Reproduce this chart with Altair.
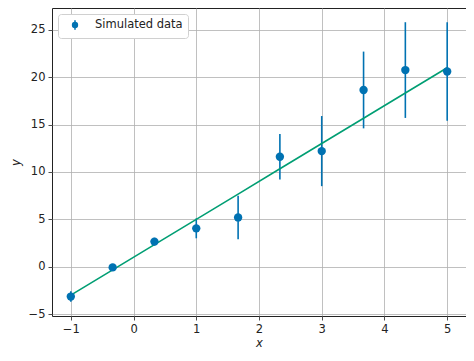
import altair as alt
import pandas as pd

# Simulated data points
x_vals = [-1.0, -0.333, 0.333, 1.0, 1.667, 2.333, 3.0, 3.667, 4.333, 5.0]
y_vals = [-3.15, -0.07, 2.65, 4.05, 5.2, 11.6, 12.2, 18.65, 20.75, 20.6]
y_err = [0.55, 0.2, 0.4, 1.05, 2.3, 2.4, 3.7, 4.05, 5.05, 5.2]

# Model line
line_x = [-1.0, -0.333, 0.333, 1.0, 1.667, 2.333, 3.0, 3.667, 4.333, 5.0]
line_y = [-3.0, -0.333, 2.333, 5.0, 7.667, 10.333, 13.0, 15.667, 18.333, 21.0]

x_ticks = [-1, 0, 1, 2, 3, 4, 5]
y_ticks = [-5, 0, 5, 10, 15, 20, 25]

BLUE = "#0072B2"
GREEN = "#009E73"
FONT = "DejaVu Sans"
FS = 11.5

pts = pd.DataFrame({
    "x": x_vals,
    "y": y_vals,
    "lo": [v - e for v, e in zip(y_vals, y_err)],
    "hi": [v + e for v, e in zip(y_vals, y_err)],
    "series": ["Simulated data"] * len(x_vals),
})
ln = pd.DataFrame({"x": line_x, "y": line_y})

xscale = alt.Scale(domain=[-1.3, 5.3], nice=False, zero=False)
yscale = alt.Scale(domain=[-5.2, 27.3], nice=False, zero=False)

xax = alt.Axis(values=x_ticks, title="x", titleFontStyle="italic", format="~g")
yax = alt.Axis(values=y_ticks, title="y", titleFontStyle="italic", format="~g")

err = alt.Chart(pts).mark_rule(color=BLUE, strokeWidth=1.6).encode(
    x=alt.X("x:Q", scale=xscale, axis=xax),
    y=alt.Y("lo:Q", scale=yscale, axis=yax),
    y2="hi:Q",
)

line = alt.Chart(ln).mark_line(color=GREEN, strokeWidth=1.6).encode(
    x=alt.X("x:Q", scale=xscale),
    y=alt.Y("y:Q", scale=yscale),
)

symbol_path = "M-0.5,0A0.5,0.5 0 1,0 0.5,0A0.5,0.5 0 1,0 -0.5,0Z M0,-1L0,1"

points = alt.Chart(pts).mark_point(filled=True, size=70, opacity=1).encode(
    x=alt.X("x:Q", scale=xscale),
    y=alt.Y("y:Q", scale=yscale),
    color=alt.Color(
        "series:N",
        scale=alt.Scale(domain=["Simulated data"], range=[BLUE]),
        legend=alt.Legend(
            title=None,
            orient="top-left",
            symbolType=symbol_path,
            symbolSize=90,
            symbolStrokeWidth=1.6,
            symbolStrokeColor=BLUE,
            symbolFillColor=BLUE,
            symbolOffset=6,
            labelFontSize=FS,
            labelFont=FONT,
            labelColor="#222",
            fillColor="white",
            strokeColor="#d0d0d0",
            cornerRadius=3,
            padding=5,
            offset=6,
            labelOffset=14,
        ),
    ),
)

chart = (
    alt.layer(err, line, points)
    .properties(
        width=414,
        height=308,
        autosize=alt.AutoSizeParams(type="none"),
        padding={"left": 44, "top": 0, "right": 0, "bottom": 37},
    )
    .configure_view(stroke="#222", strokeWidth=1)
    .configure_axis(
        grid=True,
        gridColor="#b0b0b0",
        gridWidth=0.8,
        domain=False,
        tickColor="#222",
        tickSize=4,
        tickWidth=0.8,
        labelFont=FONT,
        labelFontSize=FS,
        labelColor="#222",
        labelPadding=3,
        titleFont=FONT,
        titleFontSize=FS,
        titleFontWeight="normal",
        titleColor="#222",
    )
    .configure_axisX(titlePadding=3)
    .configure_axisY(titlePadding=7)
)

chart.save("out.html", embed_options={"renderer": "svg", "actions": False})
